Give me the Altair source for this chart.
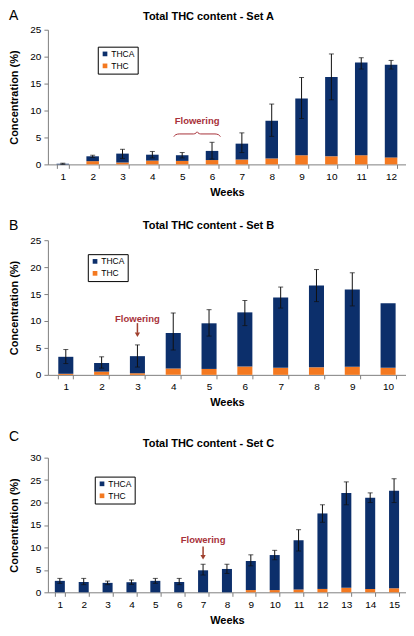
import altair as alt
import pandas as pd

# ---------------- data ----------------
weeks_a = list(range(1, 13))
thc_a = [0.0, 0.6, 0.35, 0.7, 0.65, 0.8, 0.9, 1.1, 1.7, 1.5, 1.7, 1.3]
total_a = [0.12, 1.5, 2.0, 1.8, 1.7, 2.5, 3.85, 8.1, 12.25, 16.2, 18.9, 18.5]
hi_a = [0.22, 1.7, 2.8, 2.4, 2.2, 4.1, 5.85, 11.2, 16.15, 20.5, 19.8, 19.3]
lo_a = [0.02, 1.3, 1.1, 1.2, 1.2, 1.0, 2.2, 5.2, 8.5, 12.0, 17.7, 17.7]

weeks_b = list(range(1, 11))
thc_b = [0.2, 0.6, 0.3, 1.2, 1.1, 1.55, 1.3, 1.4, 1.5, 1.3]
total_b = [3.35, 2.2, 3.47, 7.78, 9.57, 11.6, 14.35, 16.57, 15.85, 13.3]
hi_b = [4.7, 3.35, 5.56, 11.5, 12.1, 13.8, 16.3, 19.55, 18.95, None]
lo_b = [2.1, 1.25, 1.45, 4.6, 7.2, 9.15, 12.4, 13.6, 12.8, None]

weeks_c = list(range(1, 16))
thc_c = [0, 0, 0, 0, 0, 0, 0, 0, 0.5, 0.5, 0.65, 0.75, 1.0, 0.75, 0.9]
total_c = [2.55, 2.3, 2.1, 2.25, 2.55, 2.3, 4.9, 5.2, 6.97, 8.3, 11.6, 17.57, 22.15, 21.05, 22.65]
hi_c = [3.1, 3.1, 2.5, 2.75, 3.1, 3.1, 6.25, 6.25, 8.35, 9.35, 13.95, 19.5, 24.6, 22.15, 25.3]
lo_c = [2.0, 1.7, 1.7, 1.75, 2.0, 1.7, 3.85, 4.2, 5.9, 7.25, 9.2, 15.6, 19.5, 20.0, 20.0]

series_names = ["THCA", "THC"]
series_colors = ["#0c2f6b", "#f47920"]

# annotation: brace over weeks 5-6 in set A (in week / % units)
brace_x = [4.72, 4.78, 4.9, 5.38, 5.47, 5.5, 5.53, 5.62, 6.1, 6.22, 6.28]
brace_y = [5.15, 5.5, 5.65, 5.65, 5.85, 6.05, 5.85, 5.65, 5.65, 5.5, 5.15]
flower_a = (5.5, 8.0)
# arrows: week, text y, shaft top, shaft bottom, head y
arrow_b = (3, 10.4, 9.6, 7.8, 7.45)
arrow_c = (7, 11.6, 10.2, 8.3, 7.8)

NOTE = "#a8323a"
FONT = "Liberation Sans"
W = 359
H = 135


def panel(letter, title, weeks, thc, total, hi, lo, ymax, leg_xy, letter_y, title_y, arrow=None, brace=False):
    rows = []
    for w, t, tot in zip(weeks, thc, total):
        rows.append({"week": w, "series": "THC", "value": t, "ord": 0})
        rows.append({"week": w, "series": "THCA", "value": round(tot - t, 3), "ord": 1})
    df = pd.DataFrame(rows)
    err = pd.DataFrame({"week": weeks, "hi": hi, "lo": lo}).dropna()

    x_enc = alt.X(
        "week:O",
        scale=alt.Scale(domain=weeks, paddingInner=0.58, paddingOuter=0.29),
        axis=alt.Axis(title="Weeks", labelAngle=0, tickBand="extent"),
    )
    yscale = alt.Scale(domain=[0, ymax], nice=False)
    yaxis = alt.Axis(title="Concentration (%)", values=list(range(0, ymax + 1, 5)))

    bars = alt.Chart(df).mark_bar().encode(
        x=x_enc,
        y=alt.Y("value:Q", stack="zero", scale=yscale, axis=yaxis),
        color=alt.Color(
            "series:N",
            scale=alt.Scale(domain=series_names, range=series_colors),
            legend=alt.Legend(
                title=None, orient="none", legendX=leg_xy[0], legendY=leg_xy[1],
                strokeColor="#000", fillColor="#fff", padding=3, rowPadding=3,
                symbolType="square", symbolSize=22, symbolStrokeWidth=0,
                labelFontSize=8.5, labelFont=FONT, labelOffset=2, cornerRadius=0,
            ),
        ),
        order=alt.Order("ord:Q"),
    )
    rules = alt.Chart(err).mark_rule(color="#111", strokeWidth=1).encode(
        x=x_enc, y=alt.Y("lo:Q", scale=yscale, axis=yaxis), y2="hi:Q"
    )
    cap_hi = alt.Chart(err).mark_tick(color="#111", size=5, thickness=1).encode(
        x=x_enc, y=alt.Y("hi:Q", scale=yscale, axis=yaxis)
    )
    cap_lo = alt.Chart(err).mark_tick(color="#111", size=5, thickness=1).encode(
        x=x_enc, y=alt.Y("lo:Q", scale=yscale, axis=yaxis)
    )
    lab = alt.Chart(pd.DataFrame({"t": [letter]})).mark_text(
        font=FONT, fontSize=14, align="left", baseline="middle", color="#000"
    ).encode(text="t:N", x=alt.value(-39), y=alt.value(letter_y))
    ttl = alt.Chart(pd.DataFrame({"t": [title]})).mark_text(
        font=FONT, fontSize=11, fontWeight="bold", align="center", baseline="middle", color="#000"
    ).encode(text="t:N", x=alt.value(161), y=alt.value(title_y))

    layers = [bars, rules, cap_hi, cap_lo, lab, ttl]

    if arrow is not None:
        wk, ty, y1, y2, yh = arrow
        adf = pd.DataFrame({"week": [wk], "ty": [ty], "y1": [y1], "y2": [y2], "yh": [yh], "t": ["Flowering"]})
        layers.append(alt.Chart(adf).mark_text(font=FONT, fontSize=9.5, fontWeight="bold", color=NOTE).encode(
            x=x_enc, y=alt.Y("ty:Q", scale=yscale, axis=yaxis), text="t:N"))
        layers.append(alt.Chart(adf).mark_rule(color="#a0402e", strokeWidth=1.5).encode(
            x=x_enc, y=alt.Y("y1:Q", scale=yscale, axis=yaxis), y2="y2:Q"))
        layers.append(alt.Chart(adf).mark_point(shape="triangle-down", filled=True, size=28,
                                                 color="#a0402e", opacity=1).encode(
            x=x_enc, y=alt.Y("yh:Q", scale=yscale, axis=yaxis)))

    inner = alt.layer(*layers)

    if brace:
        bx = alt.X("bx:Q", scale=alt.Scale(domain=[0.5, len(weeks) + 0.5], nice=False, zero=False), axis=None)
        bdf = pd.DataFrame({"bx": brace_x, "by": brace_y})
        tdf = pd.DataFrame({"bx": [flower_a[0]], "by": [flower_a[1]], "t": ["Flowering"]})
        br = alt.Chart(bdf).mark_line(color=NOTE, strokeWidth=1, interpolate="monotone").encode(
            x=bx, y=alt.Y("by:Q", scale=yscale, axis=yaxis))
        bt = alt.Chart(tdf).mark_text(font=FONT, fontSize=9.5, fontWeight="bold", color=NOTE).encode(
            x=bx, y=alt.Y("by:Q", scale=yscale, axis=yaxis), text="t:N")
        ch = alt.layer(inner, br, bt).resolve_scale(x="independent")
    else:
        ch = inner

    return ch.properties(width=W, height=H)


pa = panel("A", "Total THC content - Set A", weeks_a, thc_a, total_a, hi_a, lo_a, 25, (50, 17), -14, -13, brace=True)
pb = panel("B", "Total THC content - Set B", weeks_b, thc_b, total_b, hi_b, lo_b, 25, (40, 14), -14, -14, arrow=arrow_b)
pc = panel("C", "Total THC content - Set C", weeks_c, thc_c, total_c, hi_c, lo_c, 30, (47, 19), -21, -14, arrow=arrow_c)

chart = (
    alt.vconcat(pa, pb, pc, spacing=22)
    .resolve_scale(color="independent")
    .resolve_legend(color="independent")
    .properties(padding=0)
    .configure_view(stroke=None)
    .configure_axis(
        grid=False, domainColor="#808080", tickColor="#808080", domainWidth=1,
        labelFont=FONT, titleFont=FONT, labelFontSize=10, titleFontSize=11,
        titleFontWeight="bold", labelColor="#000", titleColor="#000", tickSize=4,
    )
    .configure_axisX(labelPadding=3, titlePadding=5)
    .configure_axisY(labelPadding=3, titlePadding=10)
)

chart.save("out.html", embed_options={"renderer": "svg", "actions": False})
